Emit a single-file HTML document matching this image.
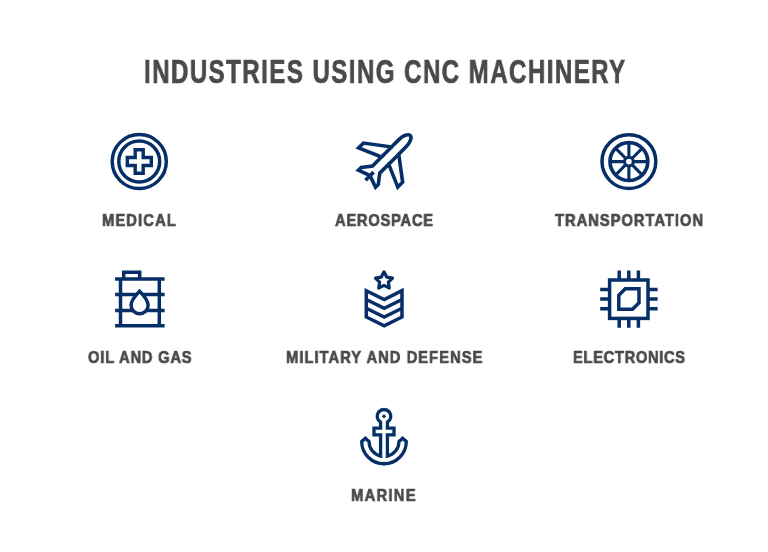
<!DOCTYPE html>
<html><head><meta charset="utf-8">
<style>
html,body{margin:0;padding:0;background:#fff;}
body{width:768px;height:552px;position:relative;overflow:hidden;}
.t{position:absolute;will-change:transform;-webkit-font-smoothing:antialiased;font-family:"Liberation Sans",sans-serif;font-weight:bold;color:#4a4a4a;white-space:nowrap;transform-origin:0 0;line-height:1;}
.title{font-size:32.5px;-webkit-text-stroke:0.7px #4a4a4a;}
.lb{font-size:17.3px;-webkit-text-stroke:0.7px #4a4a4a;}
svg{position:absolute;left:0;top:0;}
</style></head><body>
<div class="t title" id="title" style="left:143.60px;top:56.40px;transform:scaleX(0.74);letter-spacing:1.98px">INDUSTRIES USING CNC MACHINERY</div>
<div class="t lb" id="l1" style="left:102.00px;top:211.50px;transform:scaleX(0.85);letter-spacing:1.35px">MEDICAL</div>
<div class="t lb" id="l2" style="left:334.70px;top:211.50px;transform:scaleX(0.85);letter-spacing:0.90px">AEROSPACE</div>
<div class="t lb" id="l3" style="left:555.00px;top:211.50px;transform:scaleX(0.85);letter-spacing:1.19px">TRANSPORTATION</div>
<div class="t lb" id="l4" style="left:87.80px;top:349.00px;transform:scaleX(0.85);letter-spacing:0.95px">OIL AND GAS</div>
<div class="t lb" id="l5" style="left:285.80px;top:349.00px;transform:scaleX(0.85);letter-spacing:1.24px">MILITARY AND DEFENSE</div>
<div class="t lb" id="l6" style="left:572.50px;top:349.00px;transform:scaleX(0.85);letter-spacing:0.80px">ELECTRONICS</div>
<div class="t lb" id="l7" style="left:351.30px;top:486.80px;transform:scaleX(0.85);letter-spacing:1.55px">MARINE</div>
<svg width="768" height="552" viewBox="0 0 768 552">
<g fill="none" stroke="#052f66" stroke-width="3.5">
<!-- medical -->
<circle cx="139.25" cy="161.5" r="27.05"/>
<circle cx="139.25" cy="161.5" r="20.45"/>
<path stroke-width="3.4" d="M135.2,149.7 H143.2 V157.5 H151.3 V165.5 H143.2 V173.3 H135.2 V165.5 H127.3 V157.5 H135.2 Z"/>
<!-- airplane -->
<g transform="translate(370.4,175.3) rotate(-45)" stroke-width="3.6">
<path d="M-0.5,0 L-4.8,-12.1 L-0.9,-12.1 L8.1,-5.1 L20.8,-5.1 L11,-27.7 L17.9,-27.7 L35,-5.1 L45,-5.1 A11.3,5.1 0 0 1 45,5.1 L35,5.1 L17.9,27.7 L11,27.7 L20.8,5.1 L8.1,5.1 L-0.9,12.1 L-4.8,12.1 Z"/>
<path d="M-7,0 L4.5,0 M20.8,-5.1 L35,-5.1 M20.8,5.1 L35,5.1"/>
</g>
<!-- wheel -->
<circle cx="628.90" cy="161.60" r="26.9"/>
<circle cx="628.90" cy="161.60" r="18.9" stroke-width="3.7"/>
<circle cx="628.90" cy="161.60" r="4.4" stroke-width="3.1"/>
<path stroke-width="3.1" d="M633.30,161.60 L647.90,161.60 M632.01,164.71 L642.34,175.04 M628.90,166.00 L628.90,180.60 M625.79,164.71 L615.46,175.04 M624.50,161.60 L609.90,161.60 M625.79,158.49 L615.46,148.16 M628.90,157.20 L628.90,142.60 M632.01,158.49 L642.34,148.16"/>
<!-- oil barrel -->
<path d="M123.7,278.9 V272.2 H139.7 V278.9"/>
<path d="M115.1,278.9 H164.6 M115.1,294.4 H164.6 M115.1,310.6 H164.6 M115.1,325.8 H164.6 M120.5,278.9 V325.8 M159.3,278.9 V325.8"/>
<path fill="#fff" d="M139.6,291.2 C135.8,295 131.1,300.2 131.1,305.2 A8.5,8.5 0 0 0 148.1,305.2 C148.1,300.2 143.4,295 139.6,291.2 Z"/>
<!-- military -->
<path d="M366.3,290.7 L384.2,299.6 L402,290.7 V317 L384.2,325.9 L366.3,317 Z"/>
<path d="M366.3,299.5 L384.2,308.4 L402,299.5 M366.3,308.2 L384.2,317.1 L402,308.2"/>
<polygon stroke-linejoin="round" stroke-width="3.2" points="384.00,271.80 386.70,277.08 392.56,278.02 388.37,282.22 389.29,288.08 384.00,285.40 378.71,288.08 379.63,282.22 375.44,278.02 381.30,277.08"/>
<!-- chip -->
<rect x="609.6" y="280" width="38.4" height="38.4"/>
<path d="M619.2,270.5 V280 M628.8,270.5 V280 M638.4,270.5 V280 M619.2,318.4 V327.8 M628.8,318.4 V327.8 M638.4,318.4 V327.8 M600.2,289.5 H609.6 M600.2,299.1 H609.6 M600.2,308.7 H609.6 M648,289.5 H657.6 M648,299.1 H657.6 M648,308.7 H657.6"/>
<path d="M625.3,288.8 H639 V302.8 L632.5,309.3 H618.8 V295.3 Z"/>
<!-- anchor -->
<path stroke-width="3.3" d="M380.60,422.19 A6.80,6.80 0 1 1 387.40,422.19 L387.40,428.2 L394,428.2 L394,434.8 L387.40,434.8 L387.40,456.11 A15.00,15.00 0 0 0 399.00,441.50 L402.65,438.2 L406.30,441.50 A22.30,22.30 0 0 1 361.70,441.50 L365.35,438.2 L369.00,441.50 A15.00,15.00 0 0 0 380.60,456.11 L380.60,434.8 L374,434.8 L374,428.2 L380.60,428.2 Z"/>
</g>
<circle cx="384" cy="416.3" r="1.7" fill="#052f66"/>
</svg>
</body></html>
